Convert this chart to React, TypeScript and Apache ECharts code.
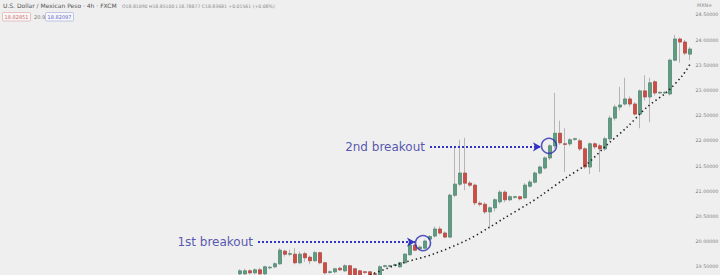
import React, { useEffect, useRef } from "react";
import * as echarts from "echarts";

// [open, close, low, high]
const candles: number[][] = [
  [19.36, 19.42, 19.33, 19.45],
  [19.36, 19.42, 19.32, 19.46],
  [19.42, 19.38, 19.35, 19.45],
  [19.38, 19.44, 19.35, 19.47],
  [19.44, 19.36, 19.33, 19.48],
  [19.36, 19.5, 19.33, 19.52],
  [19.48, 19.49, 19.45, 19.51],
  [19.5, 19.56, 19.47, 19.59],
  [19.56, 19.83, 19.54, 19.87],
  [19.81, 19.75, 19.7, 19.84],
  [19.75, 19.76, 19.71, 19.84],
  [19.75, 19.58, 19.55, 19.87],
  [19.58, 19.75, 19.55, 19.8],
  [19.76, 19.68, 19.6, 19.8],
  [19.69, 19.62, 19.55, 19.72],
  [19.62, 19.78, 19.6, 19.82],
  [19.78, 19.58, 19.55, 19.8],
  [19.58, 19.38, 19.35, 19.6],
  [19.39, 19.4, 19.36, 19.43],
  [19.4, 19.46, 19.37, 19.48],
  [19.47, 19.44, 19.42, 19.5],
  [19.42, 19.52, 19.4, 19.55],
  [19.52, 19.34, 19.3, 19.54],
  [19.46, 19.34, 19.3, 19.48],
  [19.42, 19.34, 19.3, 19.44],
  [19.4, 19.39, 19.36, 19.42],
  [19.4, 19.34, 19.3, 19.42],
  [19.36, 19.35, 19.32, 19.38],
  [19.34, 19.5, 19.32, 19.53],
  [19.51, 19.52, 19.49, 19.54],
  [19.51, 19.52, 19.49, 19.54],
  [19.53, 19.54, 19.51, 19.56],
  [19.5, 19.58, 19.48, 19.6],
  [19.58, 19.75, 19.56, 19.77],
  [19.74, 19.93, 19.72, 19.96],
  [19.93, 19.83, 19.81, 19.96],
  [19.86, 19.89, 19.84, 19.92],
  [19.87, 20.01, 19.85, 20.04],
  [20.05, 20.1, 20.03, 20.13],
  [20.11, 20.25, 20.08, 20.3],
  [20.25, 20.17, 20.14, 20.3],
  [20.17, 20.09, 20.07, 20.2],
  [20.09, 20.92, 20.07, 20.95],
  [20.92, 21.14, 20.88, 21.86],
  [21.14, 21.36, 21.1, 22.02],
  [21.36, 21.16, 21.02, 22.06],
  [21.16, 21.12, 21.08, 21.2],
  [21.12, 20.77, 20.72, 21.15],
  [20.76, 20.74, 20.7, 20.8],
  [20.74, 20.59, 20.55, 20.78],
  [20.59, 20.67, 20.29, 20.7],
  [20.67, 20.83, 20.6, 20.86],
  [20.79, 20.98, 20.75, 21.02],
  [20.98, 20.83, 20.78, 21.02],
  [20.83, 20.89, 20.8, 20.92],
  [20.88, 20.89, 20.85, 20.91],
  [20.89, 20.85, 20.82, 20.91],
  [20.87, 21.12, 20.84, 21.16],
  [21.1, 21.18, 21.07, 21.22],
  [21.18, 21.36, 21.15, 21.39],
  [21.36, 21.48, 21.33, 21.51],
  [21.46, 21.66, 21.43, 21.69],
  [21.66, 21.9, 21.62, 21.93],
  [21.9, 22.15, 21.85, 22.95],
  [22.15, 21.96, 21.92, 22.4],
  [21.94, 21.93, 21.38, 22.25],
  [21.94, 22.02, 21.9, 22.05],
  [22.03, 22.04, 22.0, 22.06],
  [22.0, 21.84, 21.8, 22.04],
  [21.84, 21.48, 21.44, 21.87],
  [21.48, 21.94, 21.34, 21.97],
  [21.94, 21.88, 21.84, 21.97],
  [21.9, 21.84, 21.38, 21.94],
  [21.84, 22.04, 21.8, 22.08],
  [22.04, 22.45, 22.0, 22.5],
  [22.45, 22.67, 22.4, 22.72],
  [22.67, 22.71, 22.6, 23.07],
  [22.73, 22.83, 22.7, 23.25],
  [22.83, 22.73, 22.68, 22.88],
  [22.73, 22.53, 22.5, 22.77],
  [22.53, 22.99, 22.25, 23.02],
  [22.99, 22.87, 22.8, 23.3],
  [22.87, 23.15, 22.37, 23.25],
  [23.17, 22.95, 22.9, 23.2],
  [22.95, 22.96, 22.93, 22.98],
  [22.95, 22.96, 22.93, 22.98],
  [22.93, 23.6, 22.9, 23.63],
  [23.6, 24.02, 23.58, 24.1],
  [24.02, 23.96, 23.55, 24.05],
  [23.96, 23.74, 23.7, 24.0],
  [23.72, 23.82, 23.6, 23.86],
];

// dotted support curve: [candle index, price]
const trend: number[][] = [
  [26, 19.34], [32, 19.56], [38.6, 19.75], [45.4, 20.03], [50, 20.29],
  [52.6, 20.45], [58, 20.77], [60, 20.9], [65.4, 21.28], [69.4, 21.54],
  [73.4, 21.92], [77.4, 22.27], [81.4, 22.67], [85.4, 22.97], [88.6, 23.31],
  [90, 23.52],
];

const breakoutNames = ["1st breakout", "2nd breakout"];
const breakoutLabelPos: number[][] = [[2.6, 19.99], [37, 21.88]];
const breakoutCircles: number[][] = [[36.6, 19.97], [61.8, 21.9]];
const arrowFrom: number[][] = [[3.6, 19.99], [38, 21.88]];
const arrowTo: number[][] = [[35, 19.99], [60.2, 21.88]];

const yTicks = { min: 19, max: 25, interval: 0.5 };

const title = "U.S. Dollar / Mexican Peso · 4h · FXCM";
const ohlc = "O18.81090 H18.85100 L18.78877 C18.83681 +0.01561 (+0.08%)";
const sellPrice = "18.82851";
const spread = "20.9";
const buyPrice = "18.82097";
const currency = "MXN=";

export default function App() {
  const ref = useRef<HTMLDivElement>(null);
  useEffect(() => {
    document.body.style.margin = "0";
    if (!ref.current) return;
    const chart = echarts.init(ref.current, undefined, { renderer: "svg" });
    const categories = candles.map((_, i) => String(i));
    const bodies = candles.map(([o, c]) => [o, c, Math.min(o, c), Math.max(o, c)]);
    const N = candles.length;
    const blue = "#3434c4";
    chart.setOption({
      animation: false,
      backgroundColor: "#efefef",
      grid: {
        left: 237.5,
        right: 27.5,
        top: -10.4,
        height: 302.4,
        containLabel: false,
        outerBoundsMode: "none",
      },
      xAxis: [
        { type: "category", data: categories, boundaryGap: true, show: false },
        { type: "value", min: -0.5, max: N - 0.5, show: false },
      ],
      yAxis: {
        type: "value",
        position: "right",
        min: yTicks.min,
        max: yTicks.max,
        interval: yTicks.interval,
        axisLine: { show: false },
        axisTick: { show: false },
        splitLine: { show: false },
        axisLabel: {
          formatter: (v: number) => v.toFixed(5),
          fontSize: 4.8,
          color: "#7d7d7d",
          margin: 3,
          fontFamily: "DejaVu Sans",
          showMinLabel: false,
          showMaxLabel: false,
        },
      },
      series: [
        {
          type: "candlestick",
          xAxisIndex: 0,
          data: candles,
          barWidth: 3.8,
          itemStyle: {
            color: "#a6a6a6",
            color0: "#a6a6a6",
            borderColor: "#a6a6a6",
            borderColor0: "#a6a6a6",
            borderWidth: 0.8,
          },
        },
        {
          type: "candlestick",
          xAxisIndex: 0,
          data: bodies,
          barWidth: 3.8,
          itemStyle: {
            color: "#5e9c83",
            color0: "#cf4c45",
            borderColor: "#4f8a72",
            borderColor0: "#b9433d",
            borderWidth: 0.6,
          },
        },
        {
          type: "line",
          xAxisIndex: 1,
          data: trend,
          showSymbol: false,
          smooth: 0.3,
          lineStyle: { color: "#222", width: 1.6, type: [1.4, 3] },
        },
        {
          type: "scatter",
          xAxisIndex: 1,
          data: breakoutCircles,
          symbol: "circle",
          symbolSize: 15,
          clip: false,
          itemStyle: { color: "rgba(0,0,0,0)", borderColor: "#2e2eb0", borderWidth: 1.6 },
          markLine: {
            silent: true,
            symbol: ["none", "arrow"],
            symbolSize: [7, 8],
            label: { show: false },
            lineStyle: { color: blue, width: 2, type: [2, 2] },
            data: arrowFrom.map((f, i) => [{ coord: f }, { coord: arrowTo[i] }]),
          },
        },
        {
          type: "scatter",
          xAxisIndex: 1,
          data: breakoutLabelPos.map((p, i) => ({ value: p, name: breakoutNames[i] })),
          symbolSize: 0,
          clip: false,
          label: {
            show: true,
            position: "left",
            distance: 0,
            formatter: (p: any) => p.name,
            color: "#2d2d9e",
            fontSize: 12,
            fontFamily: "DejaVu Sans",
          },
        },
      ],
      graphic: [
        { type: "text", left: 3, top: 2.5, style: { text: title, fontSize: 6, fill: "#555", fontFamily: "DejaVu Sans" } },
        { type: "text", left: 122, top: 3.5, style: { text: ohlc, fontSize: 4.6, fill: "#8a8a8a", fontFamily: "DejaVu Sans" } },
        { type: "rect", shape: { x: 2.5, y: 12.5, width: 28, height: 8.5, r: 1 }, style: { fill: "#f7f7f7", stroke: "#e3a9a9", lineWidth: 0.7 } },
        { type: "text", x: 16.5, y: 16.75, style: { text: sellPrice, fontSize: 5, fill: "#d16a6a", align: "center", verticalAlign: "middle", fontFamily: "DejaVu Sans" } },
        { type: "text", x: 34, y: 16.75, style: { text: spread, fontSize: 5, fill: "#777", verticalAlign: "middle", fontFamily: "DejaVu Sans" } },
        { type: "rect", shape: { x: 45.5, y: 12.5, width: 28, height: 8.5, r: 1 }, style: { fill: "#f7f7f7", stroke: "#a9b0e3", lineWidth: 0.7 } },
        { type: "text", x: 59.5, y: 16.75, style: { text: buyPrice, fontSize: 5, fill: "#5a66cf", align: "center", verticalAlign: "middle", fontFamily: "DejaVu Sans" } },
        { type: "text", x: 697, y: 5, style: { text: currency, fontSize: 4.8, fill: "#888", verticalAlign: "middle", fontFamily: "DejaVu Sans" } },
      ],
    });
    return () => chart.dispose();
  }, []);
  return <div ref={ref} style={{ width: 720, height: 275, background: "#efefef" }} />;
}
